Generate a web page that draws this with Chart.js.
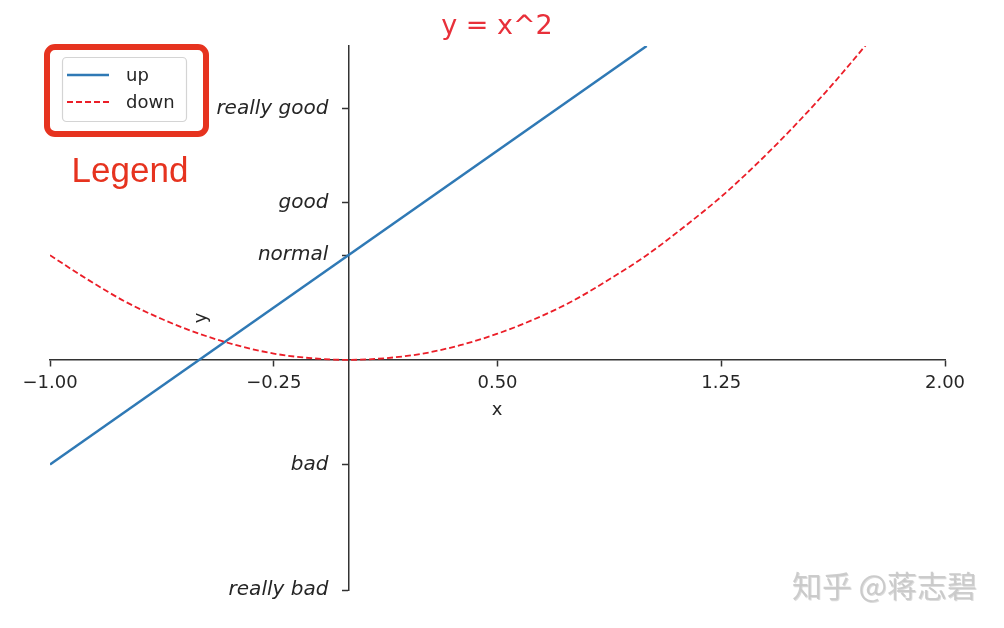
<!DOCTYPE html>
<html>
<head>
<meta charset="utf-8">
<script src="https://cdn.jsdelivr.net/npm/chart.js@4"></script>
<style>
  html, body { margin: 0; padding: 0; background: #fff; }
  #wrap { position: relative; width: 1004px; height: 628px; }
</style>
</head>
<body>
<div id="wrap"><canvas id="myChart"></canvas></div>
<script>
// values
const upX = [-1, 1];
const upY = [-1, 3];

const downX = [-1, -0.875, -0.75, -0.625, -0.5, -0.375, -0.25, -0.125, 0,
    0.125, 0.25, 0.375, 0.5, 0.625, 0.75, 0.875, 1, 1.125, 1.25, 1.375, 1.5, 1.625, 1.75];
const downY = [1, 0.77, 0.56, 0.39, 0.25, 0.14, 0.06, 0.016, 0,
    0.016, 0.06, 0.14, 0.25, 0.39, 0.56, 0.77, 1, 1.27, 1.56, 1.89, 2.25, 2.64, 3.06];

const xTickValues = [-1, -0.25, 0.5, 1.25, 2];
const xTickLabels = ['\u22121.00', '\u22120.25', '0.50', '1.25', '2.00'];

const yTickValues = [-2.2, -1, 1, 1.5, 2.4];
const yTickLabels = ['really bad', 'bad', 'normal', 'good', 'really good'];

const axisColor = '#333333';
const tickFont = { family: 'DejaVu Sans', size: 18 };

const toPoints = (xs, ys) => xs.map((x, i) => ({ x: x, y: ys[i] }));

const data = {
    datasets: [
        {
            label: 'up',
            data: toPoints(upX, upY),
            borderColor: '#2f79b5',
            borderWidth: 2.5,
            pointRadius: 0,
            order: 1
        },
        {
            label: 'down',
            data: toPoints(downX, downY),
            borderColor: 'rgb(235, 30, 40)',
            borderWidth: 1.8,
            borderDash: [6, 3],
            pointRadius: 0,
            cubicInterpolationMode: 'monotone',
            order: 0
        }
    ]
};

// title, axis names, matplotlib style legend and the screenshot annotations
const extras = {
    id: 'extras',
    afterDraw(chart) {
        const ctx = chart.ctx;
        ctx.save();

        ctx.fillStyle = '#e8303a';
        ctx.font = '27px "DejaVu Sans"';
        ctx.textAlign = 'center';
        ctx.textBaseline = 'alphabetic';
        ctx.fillText('y = x^2', 497, 34);

        ctx.fillStyle = '#262626';
        ctx.font = '18px "DejaVu Sans"';
        ctx.textBaseline = 'middle';
        ctx.fillText('x', 497, 410);
        ctx.save();
        ctx.translate(201, 318);
        ctx.rotate(-Math.PI / 2);
        ctx.fillText('y', 0, 0);
        ctx.restore();

        // legend frame
        ctx.beginPath();
        ctx.roundRect(62.5, 57.5, 124, 64, 4);
        ctx.fillStyle = 'rgba(255,255,255,0.8)';
        ctx.fill();
        ctx.strokeStyle = '#d4d4d4';
        ctx.lineWidth = 1.2;
        ctx.stroke();

        chart.data.datasets.forEach((ds, i) => {
            const y = 75 + i * 27;
            ctx.beginPath();
            ctx.setLineDash(ds.borderDash || []);
            ctx.strokeStyle = ds.borderColor;
            ctx.lineWidth = ds.borderWidth;
            ctx.moveTo(67, y);
            ctx.lineTo(109, y);
            ctx.stroke();
            ctx.setLineDash([]);
            ctx.fillStyle = '#262626';
            ctx.font = '18px "DejaVu Sans"';
            ctx.textAlign = 'left';
            ctx.textBaseline = 'middle';
            ctx.fillText(ds.label, 126, y + 1);
        });

        // red annotation box
        ctx.beginPath();
        ctx.roundRect(47, 47, 159, 87, 8);
        ctx.strokeStyle = '#e6331f';
        ctx.lineWidth = 6;
        ctx.stroke();

        ctx.fillStyle = '#e6331f';
        ctx.font = '35px "Liberation Sans"';
        ctx.textAlign = 'center';
        ctx.textBaseline = 'middle';
        ctx.fillText('Legend', 130, 172);

        // watermark
        ctx.font = '30px "Noto Sans CJK SC"';
        ctx.textAlign = 'right';
        ctx.fillStyle = 'rgba(120,120,120,0.25)';
        ctx.fillText('知乎 @蒋志碧', 978, 587);
        ctx.fillStyle = 'rgba(200,200,200,0.9)';
        ctx.fillText('知乎 @蒋志碧', 977, 586);

        ctx.restore();
    }
};

const config = {
    type: 'line',
    data: data,
    options: {
        responsive: true,
        maintainAspectRatio: false,
        animation: false,
        layout: {
            padding: { left: 50, right: 59, top: 46, bottom: 38 }
        },
        scales: {
            x: {
                type: 'linear',
                position: { y: 0 },
                min: -1,
                max: 2,
                afterBuildTicks: (scale) => {
                    scale.ticks = xTickValues.map(v => ({ value: v }));
                },
                ticks: {
                    autoSkip: false,
                    maxRotation: 0,
                    padding: 7,
                    color: '#262626',
                    font: tickFont,
                    callback: (value, index) => xTickLabels[index]
                },
                grid: {
                    drawOnChartArea: false,
                    drawTicks: true,
                    tickLength: 6,
                    tickWidth: 1.5,
                    tickColor: axisColor
                },
                border: { display: true, color: axisColor, width: 1.5 }
            },
            y: {
                type: 'linear',
                position: { x: 0 },
                min: -2.2,
                max: 3,
                afterBuildTicks: (scale) => {
                    scale.ticks = yTickValues.map(v => ({ value: v }));
                },
                ticks: {
                    autoSkip: false,
                    color: '#262626',
                    font: { family: 'DejaVu Sans', size: 20, style: 'italic' },
                    // a centred axis puts labels right on the spine, two en spaces push them off it
                    callback: (value, index) => yTickLabels[index] + '\u2002\u2002'
                },
                grid: {
                    drawOnChartArea: false,
                    drawTicks: true,
                    tickLength: 6,
                    tickWidth: 1.5,
                    tickColor: axisColor
                },
                border: { display: true, color: axisColor, width: 1.5 }
            }
        },
        plugins: {
            legend: { display: false },
            tooltip: { enabled: false }
        }
    },
    plugins: [extras]
};

const myChart = new Chart(
    document.getElementById('myChart'),
    config
);
</script>
</body>
</html>
